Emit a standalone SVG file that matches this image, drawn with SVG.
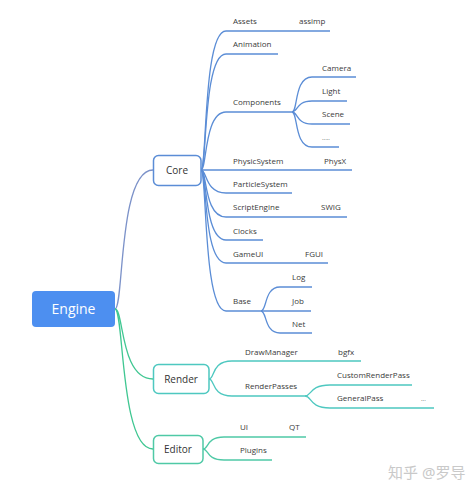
<svg xmlns="http://www.w3.org/2000/svg" width="474" height="492" viewBox="0 0 474 492">
<style>
.t{font-family:"Open Sans","Noto Sans",sans-serif;font-size:8px;fill:#3a3a3a}
.n{font-family:"Open Sans","Noto Sans",sans-serif;font-size:10px;fill:#333;text-anchor:middle}
.c{fill:none;stroke:#5b8dd6;stroke-width:1.3}
.r{fill:none;stroke:#4ec8c0;stroke-width:1.3}
.e{fill:none;stroke:#4fc9a6;stroke-width:1.3}
.m{fill:none;stroke-width:1.3}
</style>
<rect width="474" height="492" fill="#fff"/>
<g id="connectors">
<path class="m" stroke="#7c92c9" d="M115,309 C124,309 118,170 153,170"/>
<path class="m" stroke="#40c792" d="M115,309 C124,309 120,379 153,379"/>
<path class="m" stroke="#40c792" d="M115,309 C124,309 120,449 153,449"/>
<!-- Core -->
<path class="c" d="M201,170 C207,170 203,31 226,31 L330,31"/>
<path class="c" d="M201,170 C207,170 203,54 226,54 L278,54"/>
<path class="c" d="M201,170 C207,170 204,112 226,112 L292,112"/>
<path class="c" d="M201,170 L352,170"/>
<path class="c" d="M201,170 C207,170 205,193 226,193 L292,193"/>
<path class="c" d="M201,170 C207,170 204,217 226,217 L347,217"/>
<path class="c" d="M201,170 C207,170 204,240 226,240 L263,240"/>
<path class="c" d="M201,170 C207,170 203,263 226,263 L328,263"/>
<path class="c" d="M201,170 C207,170 203,311 226,311 L261,311"/>
<path class="c" d="M292,112 C298,112 294,77 312,77 L356,77"/>
<path class="c" d="M292,112 C298,112 296,101 312,101 L347,101"/>
<path class="c" d="M292,112 C298,112 296,124 312,124 L350,124"/>
<path class="c" d="M292,112 C298,112 294,147 312,147 L339,147"/>
<path class="c" d="M261,311 C267,311 264,287 280,287 L312,287"/>
<path class="c" d="M261,311 L311,311"/>
<path class="c" d="M261,311 C267,311 264,333 280,333 L312,333"/>
<!-- Render -->
<path class="r" d="M209,379 C215,379 211,361 232,361 L361,361"/>
<path class="r" d="M209,379 C215,379 211,396 232,396 L305,396"/>
<path class="r" d="M305,396 C312,396 309,385 330,385 L412,385"/>
<path class="r" d="M305,396 C312,396 309,408 330,408 L434,408"/>
<!-- Editor -->
<path class="e" d="M203,449 C209,449 206,437 224,437 L306,437"/>
<path class="e" d="M203,449 C209,449 206,460 224,460 L272,460"/>
</g>
<g id="engine">
<rect x="32" y="291" width="83" height="36" rx="4" fill="#4d8ff0"/>
<text x="73.5" y="314" style="font-family:'Open Sans','Noto Sans',sans-serif;font-size:14px;fill:#fff;text-anchor:middle">Engine</text>
</g>
<g id="core">
<rect x="153.5" y="155.5" width="47.5" height="30" rx="5" fill="#fff" stroke="#5b8dd6" stroke-width="1.5"/>
<text class="n" x="177" y="174">Core</text>
</g>
<g id="render">
<rect x="153.5" y="364.5" width="55.5" height="29" rx="5" fill="#fff" stroke="#4ec8c0" stroke-width="1.5"/>
<text class="n" x="181" y="383">Render</text>
</g>
<g id="editor">
<rect x="153.5" y="435.5" width="49.5" height="28" rx="5" fill="#fff" stroke="#4fc9a6" stroke-width="1.5"/>
<text class="n" x="178" y="453">Editor</text>
</g>
<g id="core-children">
<text class="t" x="233" y="24">Assets</text>
<text class="t" x="299" y="24">assimp</text>
<text class="t" x="233" y="47">Animation</text>
<text class="t" x="233" y="105">Components</text>
<text class="t" x="322" y="71">Camera</text>
<text class="t" x="322" y="94">Light</text>
<text class="t" x="322" y="117">Scene</text>
<text class="t" x="322" y="140" style="font-size:6px">.....</text>
<text class="t" x="233" y="164">PhysicSystem</text>
<text class="t" x="324" y="164">PhysX</text>
<text class="t" x="233" y="187">ParticleSystem</text>
<text class="t" x="233" y="210">ScriptEngine</text>
<text class="t" x="321" y="210">SWIG</text>
<text class="t" x="233" y="234">Clocks</text>
<text class="t" x="233" y="257">GameUI</text>
<text class="t" x="305" y="257">FGUI</text>
<text class="t" x="233" y="304">Base</text>
<text class="t" x="292" y="280">Log</text>
<text class="t" x="292" y="304">Job</text>
<text class="t" x="292" y="327">Net</text>
</g>
<g id="render-children">
<text class="t" x="245" y="355">DrawManager</text>
<text class="t" x="338" y="355">bgfx</text>
<text class="t" x="245" y="389">RenderPasses</text>
<text class="t" x="337" y="378">CustomRenderPass</text>
<text class="t" x="337" y="401">GeneralPass</text>
<text class="t" x="421" y="401" style="font-size:6px">...</text>
</g>
<g id="editor-children">
<text class="t" x="240" y="430">UI</text>
<text class="t" x="289" y="430">QT</text>
<text class="t" x="240" y="453">Plugins</text>
</g>
<text x="388" y="478" style="font-family:'Noto Sans','Noto Sans CJK SC',sans-serif;font-size:15px;fill:#c9c9c9">知乎 @罗导</text>
</svg>
